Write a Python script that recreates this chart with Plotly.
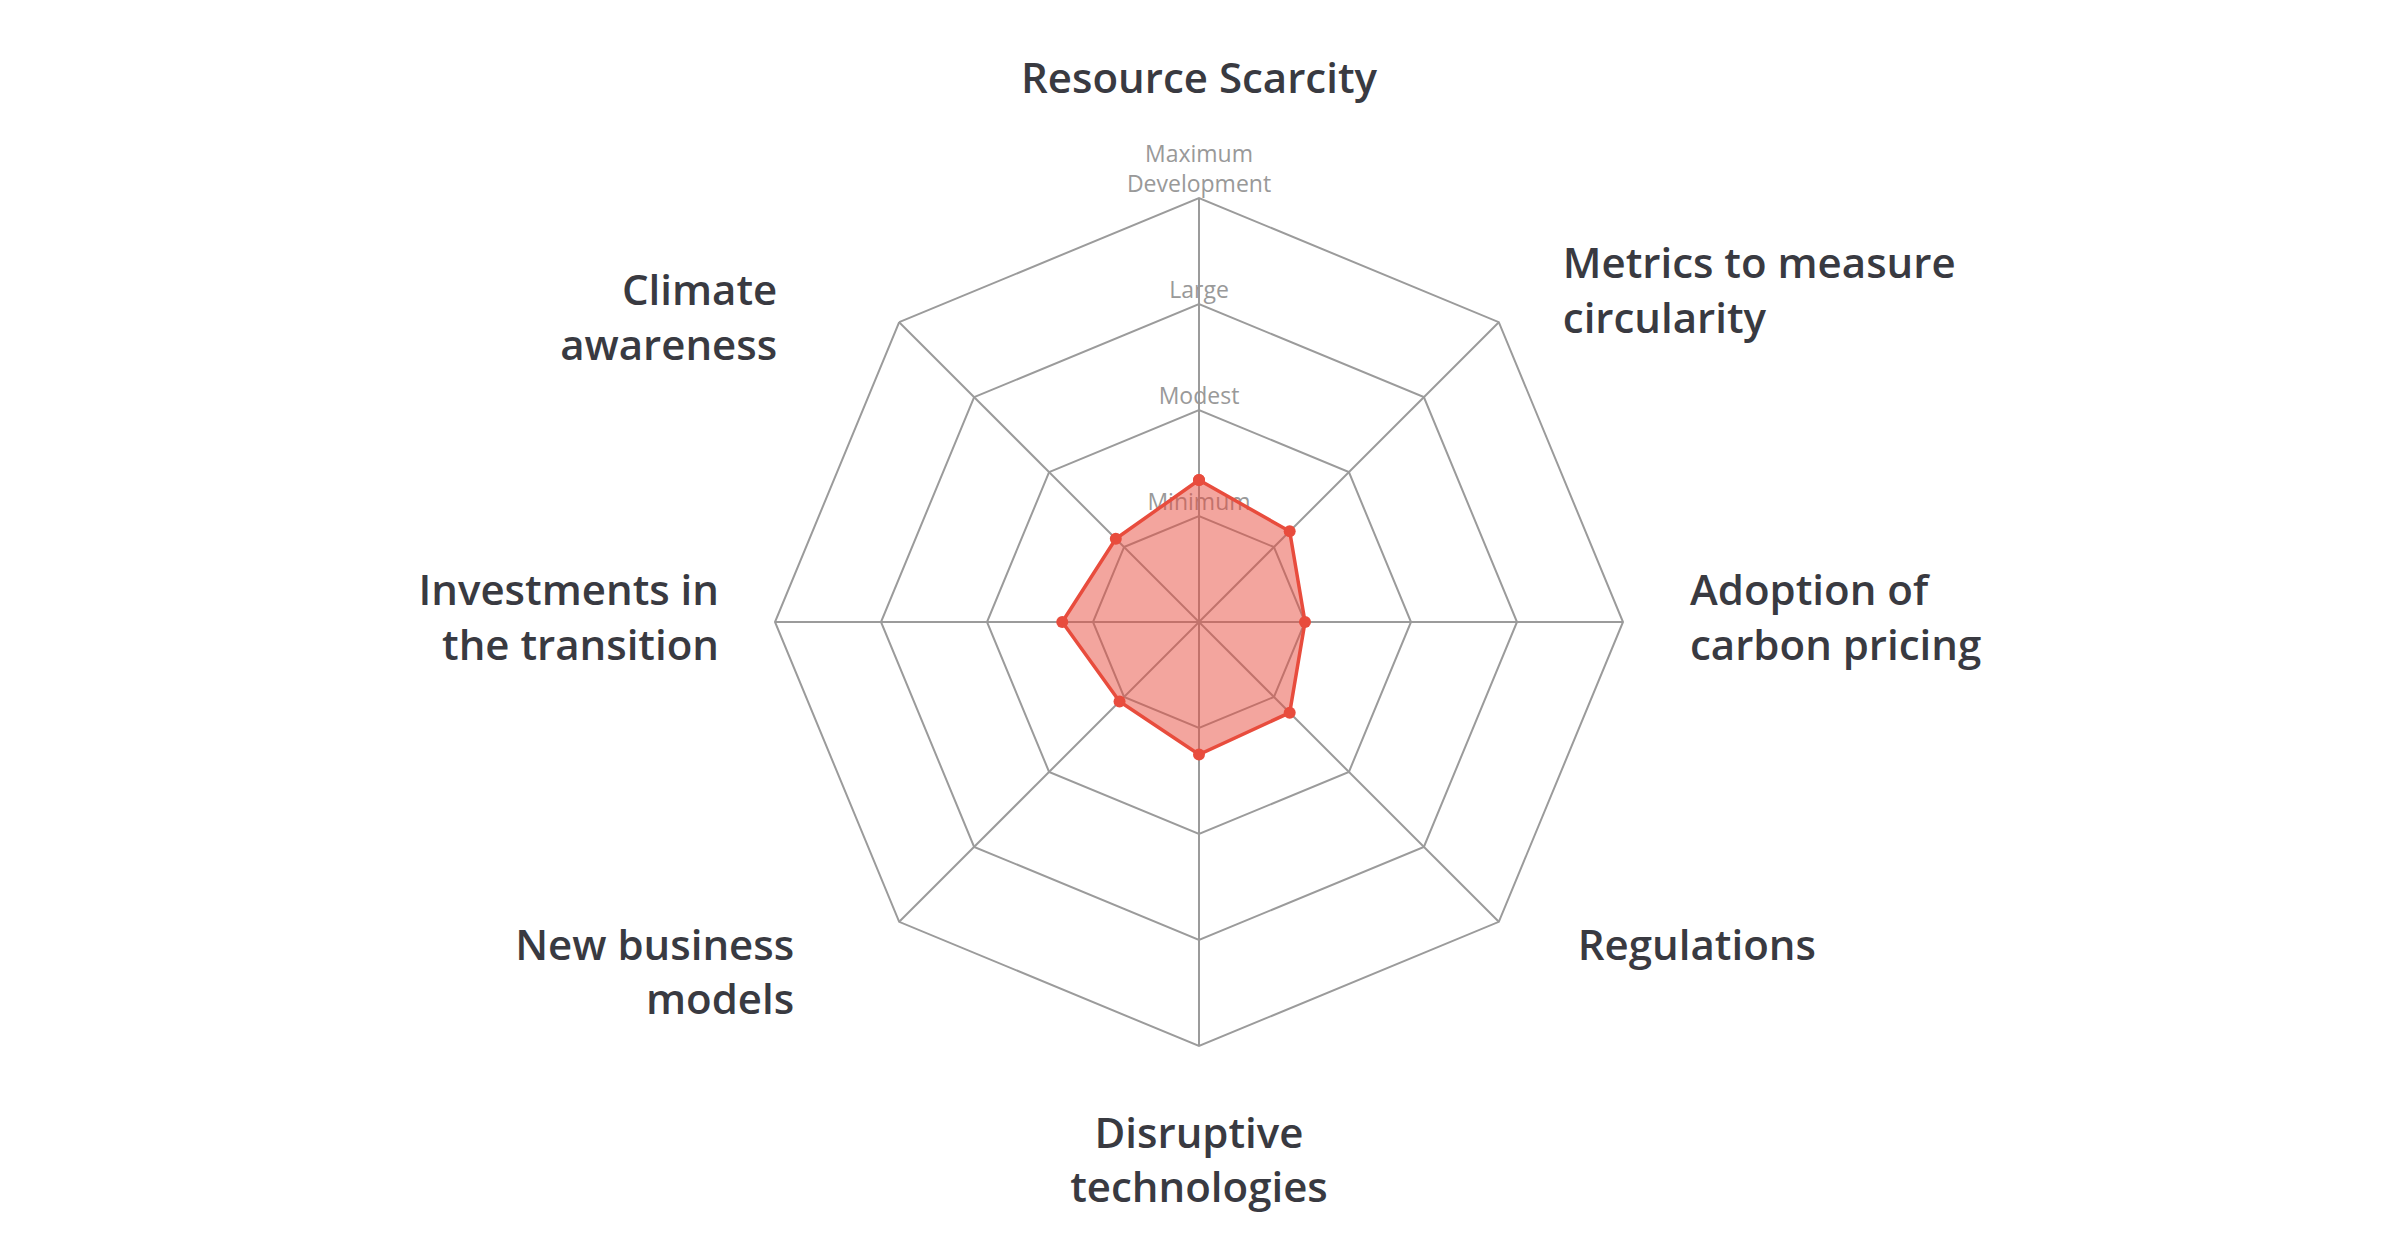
import plotly.graph_objects as go

# axes, clockwise from the top
categories = [
    "Resource Scarcity",
    "Metrics to measure circularity",
    "Adoption of carbon pricing",
    "Regulations",
    "Disruptive technologies",
    "New business models",
    "Investments in the transition",
    "Climate awareness",
]
axis_labels = [
    "Resource Scarcity",
    "Metrics to measure<br>circularity",
    "Adoption of<br>carbon pricing",
    "Regulations",
    "Disruptive<br>technologies",
    "New business<br>models",
    "Investments in<br>the transition",
    "Climate<br>awareness",
]
scores = [1.34, 1.21, 1.0, 1.21, 1.25, 1.06, 1.29, 1.11]

level_values = [1, 2, 3, 4]
level_names = ["Minimum", "Modest", "Large", "Maximum<br>Development"]

RED = "#e84c3d"
GRID = "#9b9b9b"
DARK = "#393a41"
FONT = "Open Sans"

# where each axis name sits around its outer corner, and how far away (px)
label_pos = ["top center", "middle right", "middle right", "middle right",
             "bottom center", "middle left", "middle left", "middle left"]
label_gap = [95, 64, 67, 79, 70, 105, 56, 122]
# blank lines before/after shift a name down/up a little
pad_before = [0, 0, 0, 1, 0, 2, 0, 0]
pad_after = [0, 1, 0, 0, 0, 0, 0, 0]
label_text = ["<br>" * b + t + "<br>" * a
              for t, b, a in zip(axis_labels, pad_before, pad_after)]
# plotly pushes text off a point by radius/0.8 + 1, so size the (hidden) markers to that
label_marker = [1.6 * (g - 1) for g in label_gap]

fig = go.Figure()

# level names sit on the top spoke, under the filled area
fig.add_trace(go.Scatterpolar(
    r=level_values,
    theta=[categories[0]] * len(level_values),
    mode="text",
    text=level_names,
    textposition="top center",
    textfont=dict(family=FONT, size=23, color="#999999"),
    hoverinfo="skip",
    showlegend=False,
))

fig.add_trace(go.Scatterpolar(
    r=scores + scores[:1],
    theta=categories + categories[:1],
    mode="lines+markers",
    fill="toself",
    fillcolor="rgba(232,76,61,0.5)",
    line=dict(color=RED, width=3.5),
    marker=dict(color=RED, size=12),
    showlegend=False,
))

# axis names, hung off the outer ring
fig.add_trace(go.Scatterpolar(
    r=[level_values[-1]] * len(categories),
    theta=categories,
    mode="markers+text",
    text=label_text,
    textposition=label_pos,
    textfont=dict(family=FONT, size=42, color=DARK, weight=600),
    marker=dict(size=label_marker, opacity=0),
    cliponaxis=False,
    hoverinfo="skip",
    showlegend=False,
))

fig.update_layout(
    width=2400,
    height=1260,
    paper_bgcolor="white",
    plot_bgcolor="white",
    margin=dict(l=0, r=18, t=190, b=222),
    polar=dict(
        bgcolor="white",
        gridshape="linear",
        domain=dict(x=[0, 1], y=[0, 1]),
        radialaxis=dict(
            range=[0, 4],
            tickvals=level_values,
            showticklabels=False,
            ticks="",
            showline=False,
            gridcolor=GRID,
            gridwidth=2,
        ),
        angularaxis=dict(
            direction="clockwise",
            rotation=90,
            showticklabels=False,
            ticks="",
            gridcolor=GRID,
            gridwidth=2,
            linecolor=GRID,
            linewidth=2,
        ),
    ),
)

fig.write_html("out.html")
